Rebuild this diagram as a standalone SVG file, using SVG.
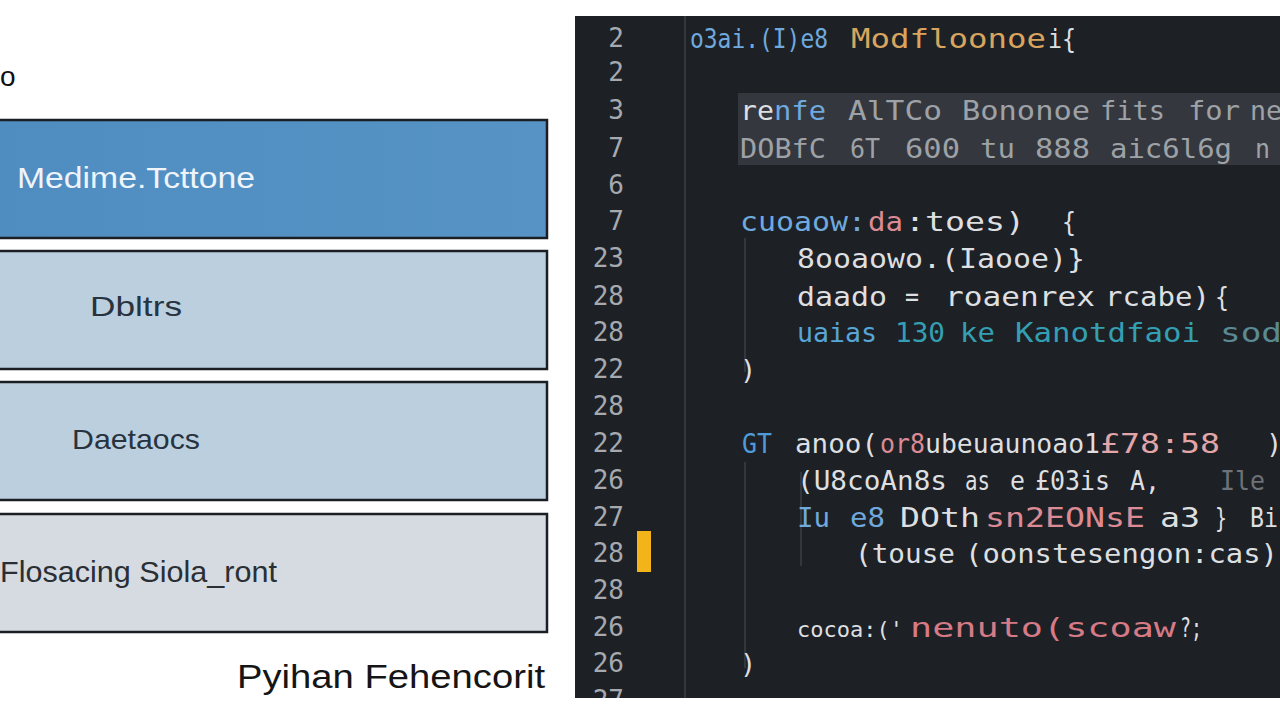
<svg xmlns="http://www.w3.org/2000/svg" width="1280" height="720" viewBox="0 0 1280 720">
<defs>
<style>
.box{stroke:#1b1f24;stroke-width:2.5}
.lbl{font-family:"Liberation Sans",Arial,sans-serif}
.code{font-family:"DejaVu Sans Mono","Liberation Mono",monospace;font-size:27px}
.ln{font-family:"DejaVu Sans Mono","Liberation Mono",monospace;font-size:26px;fill:#a6aaaf;text-anchor:end}
.w{fill:#dedfe0}.b{fill:#6fa9de}.o{fill:#d9a55e}.g{fill:#9ea2a7}.p{fill:#dc8a94}.t{fill:#349fb2}
.guide{stroke:#3a3f46;stroke-width:1.5}
</style>
<linearGradient id="blueg" x1="0" y1="0" x2="1" y2="0">
<stop offset="0" stop-color="#4f8cc0"/><stop offset="1" stop-color="#5794c5"/>
</linearGradient>
<clipPath id="panelclip"><rect x="575" y="16" width="705" height="682"/></clipPath>
</defs>
<rect width="1280" height="720" fill="#ffffff"/>
<text class="lbl" x="0" y="86" font-size="28" fill="#111">o</text>

<g id="box-medime">
<rect class="box" x="-4" y="120" width="551" height="118" fill="url(#blueg)"/>
<text class="lbl" x="17" y="188" font-size="29" fill="#eef4fa" textLength="238" lengthAdjust="spacingAndGlyphs">Medime.Tcttone</text>
</g>
<g id="box-dbltrs">
<rect class="box" x="-4" y="251" width="551" height="118" fill="#bccfdf"/>
<text class="lbl" x="90" y="316" font-size="28" fill="#27333f" textLength="92" lengthAdjust="spacingAndGlyphs">Dbltrs</text>
</g>
<g id="box-daetaocs">
<rect class="box" x="-4" y="382" width="551" height="118" fill="#bccfdf"/>
<text class="lbl" x="72" y="449" font-size="28" fill="#27333f" textLength="128" lengthAdjust="spacingAndGlyphs">Daetaocs</text>
</g>
<g id="box-flosacing">
<rect class="box" x="-4" y="514" width="551" height="118" fill="#d5dbe0"/>
<text class="lbl" x="0" y="582" font-size="29" fill="#2a2f35" textLength="277" lengthAdjust="spacingAndGlyphs">Flosacing Siola_ront</text>
</g>
<text id="caption" class="lbl" x="237" y="688" font-size="34" fill="#151515" textLength="308" lengthAdjust="spacingAndGlyphs">Pyihan Fehencorit</text>

<g id="code-panel">
<rect x="575" y="16" width="705" height="682" fill="#1d2126"/>
<g clip-path="url(#panelclip)">
<rect x="738" y="93" width="542" height="72" fill="#34383e"/>
<line x1="685" y1="16" x2="685" y2="698" stroke="#3a3f46" stroke-width="1.5"/>
<line class="guide" x1="745" y1="238" x2="745" y2="372"/>
<line class="guide" x1="745" y1="462" x2="745" y2="668"/>
<line class="guide" x1="801" y1="472" x2="801" y2="566"/>
<rect x="637" y="531" width="14" height="41" fill="#f2b418"/>

<g id="line-numbers">
<text class="ln" x="624" y="47">2</text>
<text class="ln" x="624" y="81">2</text>
<text class="ln" x="624" y="119">3</text>
<text class="ln" x="624" y="157">7</text>
<text class="ln" x="624" y="194">6</text>
<text class="ln" x="624" y="230">7</text>
<text class="ln" x="624" y="267">23</text>
<text class="ln" x="624" y="305">28</text>
<text class="ln" x="624" y="341">28</text>
<text class="ln" x="624" y="378">22</text>
<text class="ln" x="624" y="415">28</text>
<text class="ln" x="624" y="452">22</text>
<text class="ln" x="624" y="489">26</text>
<text class="ln" x="624" y="526">27</text>
<text class="ln" x="624" y="562">28</text>
<text class="ln" x="624" y="599">28</text>
<text class="ln" x="624" y="636">26</text>
<text class="ln" x="624" y="672">26</text>
<text class="ln" x="624" y="709">27</text>
</g>

<g id="code-text" class="code">
<text class="b" x="690" y="48" textLength="138" lengthAdjust="spacingAndGlyphs">o3ai.(I)e8</text>
<text class="o" x="851" y="48" textLength="195" lengthAdjust="spacingAndGlyphs">Modfloonoe</text>
<text class="w" x="1048" y="48" textLength="28" lengthAdjust="spacingAndGlyphs">i{</text>

<text class="w" x="740" y="120" textLength="34" lengthAdjust="spacingAndGlyphs">re</text>
<text class="b" x="774" y="120" textLength="52" lengthAdjust="spacingAndGlyphs">nfe</text>
<text class="g" x="848" y="120" textLength="94" lengthAdjust="spacingAndGlyphs">AlTCo</text>
<text class="g" x="962" y="120" textLength="128" lengthAdjust="spacingAndGlyphs">Bononoe</text>
<text class="g" x="1100" y="120" textLength="65" lengthAdjust="spacingAndGlyphs">fits</text>
<text class="g" x="1188" y="120" textLength="52" lengthAdjust="spacingAndGlyphs">for</text>
<text class="g" x="1250" y="120" textLength="32" lengthAdjust="spacingAndGlyphs">ne</text>

<text class="g" x="740" y="158" textLength="86" lengthAdjust="spacingAndGlyphs">DOBfC</text>
<text class="g" x="850" y="158" textLength="30" lengthAdjust="spacingAndGlyphs">6T</text>
<text class="g" x="905" y="158" textLength="55" lengthAdjust="spacingAndGlyphs">600</text>
<text class="g" x="980" y="158" textLength="35" lengthAdjust="spacingAndGlyphs">tu</text>
<text class="g" x="1035" y="158" textLength="55" lengthAdjust="spacingAndGlyphs">888</text>
<text class="g" x="1110" y="158" textLength="122" lengthAdjust="spacingAndGlyphs">aic6l6g</text>
<text class="g" x="1255" y="158" textLength="15" lengthAdjust="spacingAndGlyphs">n</text>

<text class="b" x="740" y="231" textLength="126" lengthAdjust="spacingAndGlyphs">cuoaow:</text>
<text class="p" x="868" y="231" textLength="35" lengthAdjust="spacingAndGlyphs">da</text>
<text class="w" x="905" y="231" textLength="120" lengthAdjust="spacingAndGlyphs">:toes)</text>
<text class="w" x="1062" y="231" textLength="14" lengthAdjust="spacingAndGlyphs">{</text>

<text class="w" x="797" y="268" textLength="288" lengthAdjust="spacingAndGlyphs">8ooaowo.(Iaooe)}</text>

<text class="w" x="797" y="306" textLength="90" lengthAdjust="spacingAndGlyphs">daado</text>
<text class="w" x="905" y="306" textLength="14" lengthAdjust="spacingAndGlyphs">=</text>
<text class="w" x="945" y="306" textLength="150" lengthAdjust="spacingAndGlyphs">roaenrex</text>
<text class="w" x="1105" y="306" textLength="105" lengthAdjust="spacingAndGlyphs">rcabe)</text>
<text class="w" x="1215" y="306" textLength="14" lengthAdjust="spacingAndGlyphs">{</text>

<text x="797" y="342" fill="#58a5d8" textLength="80" lengthAdjust="spacingAndGlyphs">uaias</text>
<text class="t" x="895" y="342" textLength="50" lengthAdjust="spacingAndGlyphs">130</text>
<text class="t" x="960" y="342" textLength="35" lengthAdjust="spacingAndGlyphs">ke</text>
<text class="t" x="1015" y="342" textLength="185" lengthAdjust="spacingAndGlyphs">Kanotdfaoi</text>
<text x="1220" y="342" fill="#5a8a94" textLength="62" lengthAdjust="spacingAndGlyphs">sod</text>

<text class="w" x="740" y="379">)</text>

<text x="742" y="453" fill="#4f9ad8" textLength="30" lengthAdjust="spacingAndGlyphs">GT</text>
<text class="w" x="795" y="453" textLength="83" lengthAdjust="spacingAndGlyphs">anoo(</text>
<text class="p" x="880" y="453" textLength="45" lengthAdjust="spacingAndGlyphs">or8</text>
<text class="w" x="925" y="453" textLength="175" lengthAdjust="spacingAndGlyphs">ubeuaunoao1</text>
<text x="1100" y="453" fill="#e2a5a8" textLength="120" lengthAdjust="spacingAndGlyphs">£78:58</text>
<text class="w" x="1266" y="453">)</text>

<text class="w" x="797" y="490" textLength="150" lengthAdjust="spacingAndGlyphs">(U8coAn8s</text>
<text class="w" x="965" y="490" textLength="25" lengthAdjust="spacingAndGlyphs">as</text>
<text class="w" x="1010" y="490" textLength="15" lengthAdjust="spacingAndGlyphs">e</text>
<text class="w" x="1035" y="490" textLength="75" lengthAdjust="spacingAndGlyphs">£03is</text>
<text class="w" x="1130" y="490" textLength="30" lengthAdjust="spacingAndGlyphs">A,</text>
<text x="1220" y="490" fill="#6e7277" textLength="45" lengthAdjust="spacingAndGlyphs">Ile</text>

<text class="b" x="797" y="527" textLength="33" lengthAdjust="spacingAndGlyphs">Iu</text>
<text class="b" x="850" y="527" textLength="35" lengthAdjust="spacingAndGlyphs">e8</text>
<text class="w" x="900" y="527" textLength="80" lengthAdjust="spacingAndGlyphs">DOth</text>
<text class="p" x="985" y="527" textLength="160" lengthAdjust="spacingAndGlyphs">sn2EONsE</text>
<text class="w" x="1160" y="527" textLength="40" lengthAdjust="spacingAndGlyphs">a3</text>
<text class="w" x="1215" y="527" textLength="12" lengthAdjust="spacingAndGlyphs">}</text>
<text class="w" x="1250" y="527" textLength="28" lengthAdjust="spacingAndGlyphs">Bi</text>

<text class="w" x="855" y="563" textLength="100" lengthAdjust="spacingAndGlyphs">(touse</text>
<text class="w" x="965" y="563" textLength="313" lengthAdjust="spacingAndGlyphs">(oonstesengon:cas)</text>

<text class="w" x="797" y="637" font-size="22">cocoa:('</text>
<text x="910" y="637" fill="#d67a86" textLength="266" lengthAdjust="spacingAndGlyphs">nenuto(scoaw</text>
<text class="w" x="1180" y="637" textLength="22" lengthAdjust="spacingAndGlyphs">?;</text>

<text class="w" x="740" y="673">)</text>
</g>
</g>
</g>
</svg>
